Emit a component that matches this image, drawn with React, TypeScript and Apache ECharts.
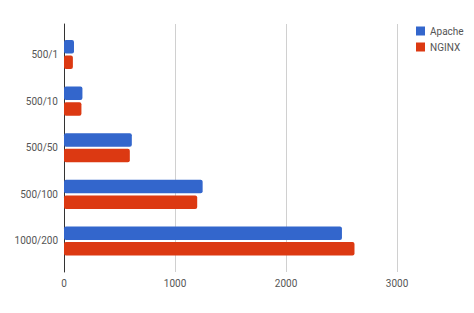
import React, { useEffect, useRef } from "react";
import * as echarts from "echarts";

const categories = ["500/1", "500/10", "500/50", "500/100", "1000/200"];
const apacheValues = [90, 166, 611, 1249, 2504];
const nginxValues = [80, 157, 593, 1200, 2617];
const xTicks = [0, 1000, 2000, 3000];

export default function App() {
  const ref = useRef<HTMLDivElement>(null);
  useEffect(() => {
    document.body.style.margin = "0";
    if (!ref.current) return;
    const chart = echarts.init(ref.current, null, { renderer: "svg" });
    const font = "Roboto, Arial, sans-serif";
    chart.setOption({
      animation: false,
      backgroundColor: "#ffffff",
      textStyle: { fontFamily: font },
      legend: {
        orient: "vertical",
        left: 411,
        top: 21,
        icon: "rect",
        itemWidth: 9,
        itemHeight: 9,
        itemGap: 6,
        textStyle: { color: "#555", fontSize: 10, fontFamily: font },
        data: ["Apache", "NGINX"],
      },
      grid: [
        { left: 64, right: 77, top: 24, height: 248 },
        { left: 64, right: 77, top: 31.2, height: 233.1 },
      ],
      xAxis: [
        {
          gridIndex: 0,
          type: "value",
          min: xTicks[0],
          max: xTicks[xTicks.length - 1],
          interval: 1000,
          axisLine: { show: false },
          axisTick: { show: false },
          splitLine: { show: true, lineStyle: { color: "#d0d0d0", width: 1 } },
          axisLabel: {
            color: "#555",
            fontSize: 10,
            margin: 6,
            fontFamily: font,
            formatter: (v: number) => String(v),
          },
        },
        {
          gridIndex: 1,
          type: "value",
          min: xTicks[0],
          max: xTicks[xTicks.length - 1],
          show: false,
        },
      ],
      yAxis: [
        {
          gridIndex: 0,
          type: "value",
          min: 0,
          max: 1,
          axisLine: { show: true, lineStyle: { color: "#333", width: 1 } },
          axisTick: { show: false },
          axisLabel: { show: false },
          splitLine: { show: false },
        },
        {
          gridIndex: 1,
          type: "category",
          inverse: true,
          data: categories,
          axisLine: { show: false },
          axisTick: { show: false },
          axisLabel: { color: "#555", fontSize: 10, margin: 6, fontFamily: font },
        },
      ],
      series: [
        {
          name: "Apache",
          type: "bar",
          xAxisIndex: 1,
          yAxisIndex: 1,
          data: apacheValues,
          barWidth: 13.5,
          barGap: "15%",
          itemStyle: { color: "#3366cc", borderRadius: 2 },
        },
        {
          name: "NGINX",
          type: "bar",
          xAxisIndex: 1,
          yAxisIndex: 1,
          data: nginxValues,
          barWidth: 13.5,
          barGap: "15%",
          itemStyle: { color: "#dc3912", borderRadius: 2 },
        },
      ],
    });
    return () => chart.dispose();
  }, []);
  return <div ref={ref} style={{ width: 474, height: 313 }} />;
}
